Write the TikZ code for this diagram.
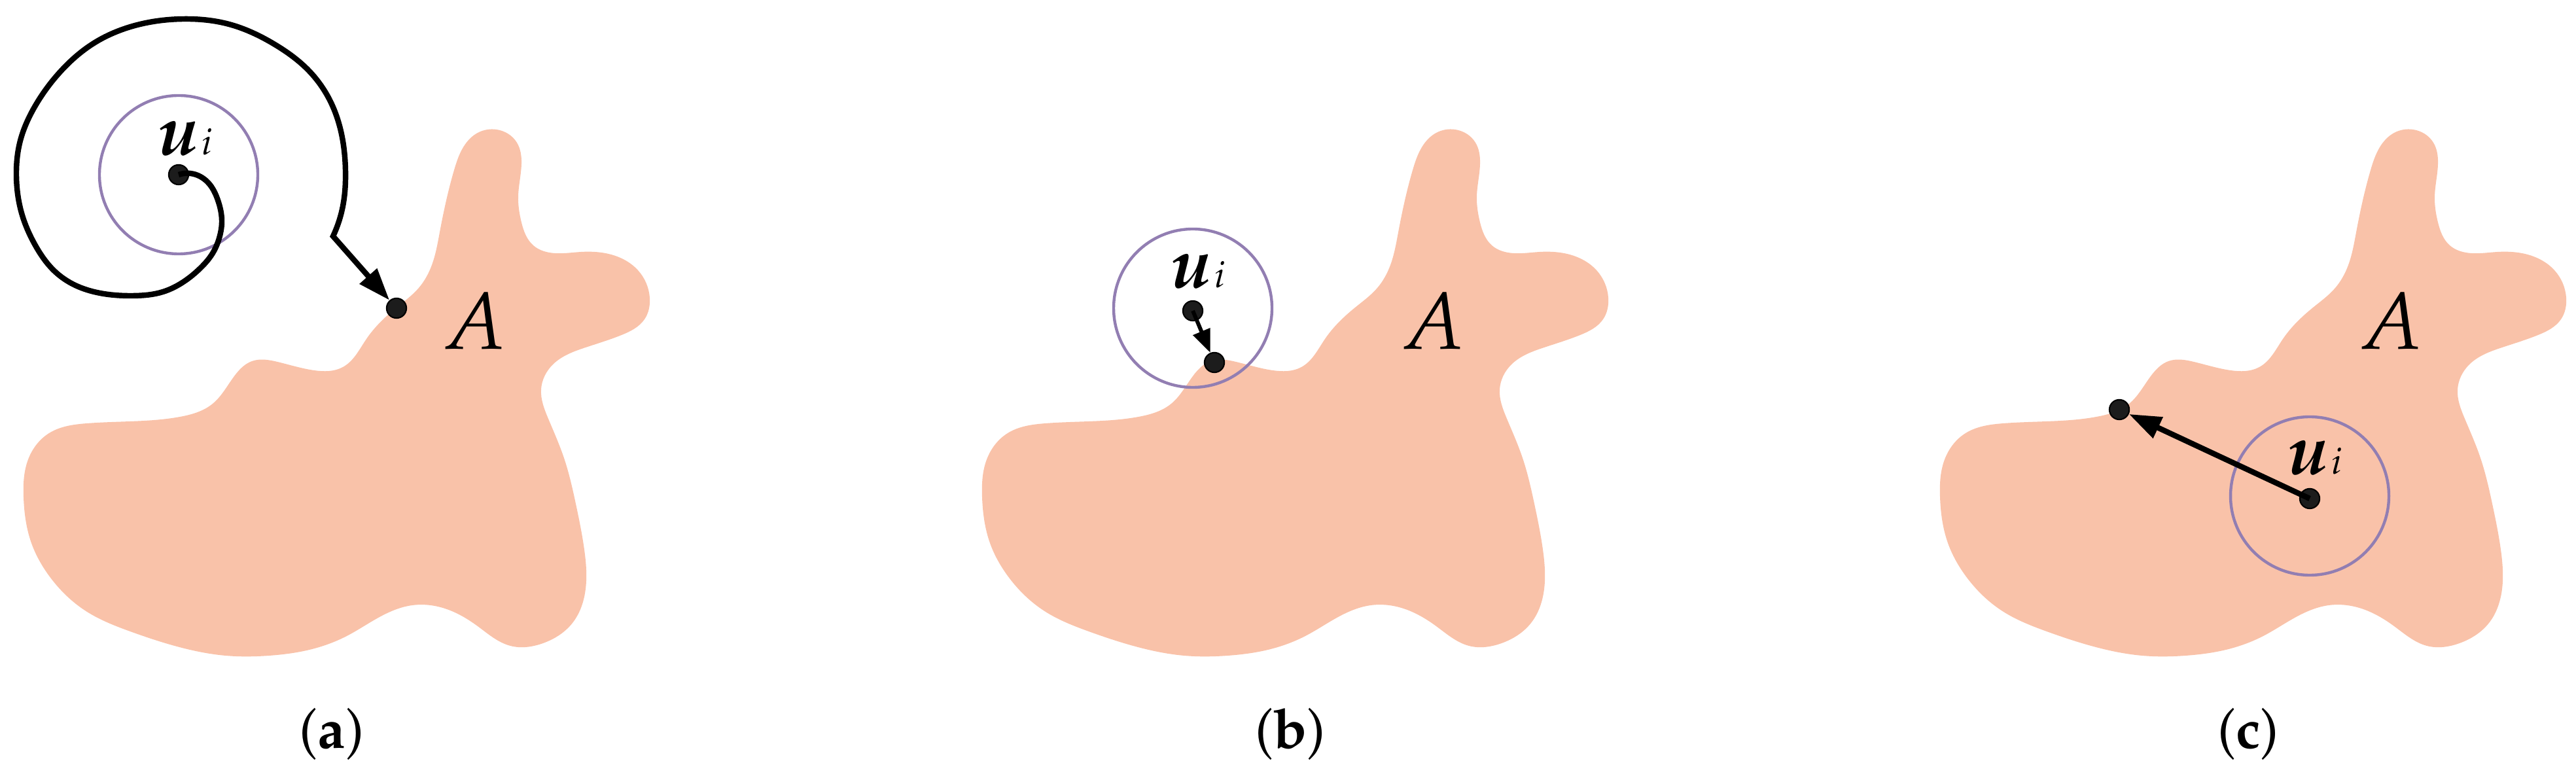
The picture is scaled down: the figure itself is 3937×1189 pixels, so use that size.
\documentclass[tikz,border=0pt]{standalone}
\usepackage[T1]{fontenc}
\usepackage{mathpazo}
\usetikzlibrary{arrows.meta,hobby}
\definecolor{blobc}{RGB}{249,194,169}
\definecolor{ringc}{RGB}{146,126,178}
\definecolor{dotc}{RGB}{28,28,28}
\newcommand{\uilabel}{{\fontsize{31}{36}\selectfont\bfseries\itshape u}\kern1.5pt{\fontsize{16}{18}\selectfont\itshape i}}
\tikzset{
  dotnode/.style={circle, fill=dotc, draw=black, line width=0.6pt, minimum size=8.6pt, inner sep=0pt},
  ring/.style={draw=ringc, line width=1.25pt},
  bigarrow/.style={line width=2.4pt, -{Triangle[length=14pt,width=9.6pt]}, line join=miter},
  smallarrow/.style={line width=1.7pt, -{Triangle[length=10pt,width=7.7pt]}},
  lbl/.style={inner sep=0pt},
  alabel/.style={font=\fontsize{35}{40}\selectfont\itshape, inner sep=0pt},
  caplbl/.style={font=\fontsize{24}{28}\selectfont, inner sep=0pt},
  blobfill/.style={fill=blobc}
}
\begin{document}
\begin{tikzpicture}[x=0.01cm, y=-0.01cm]
\useasboundingbox (0,0) rectangle (3937,1189);
% blobs
\foreach \dx in {0,1465,2929}{
\fill[blobfill, shift={(\dx,0)}] plot[closed hobby] coordinates {
(606,470) (560,518) (524,561) (480,566) (424,553) (385,552) (361,571) (325,617) (275,637) (199,644) (133,647) (75,662) (42,705) (36,760) (48,830) (75,880) (133,935) (199,965) (278,990) (345,1002) (411,1002) (477,992) (530,972) (580,943) (630,925) (680,930) (730,957) (780,987) (830,983) (875,952) (895,900) (893,840) (880,770) (862,700) (838,640) (827,595) (845,557) (895,531) (950,512) (985,488) (993,455) (975,413) (934,389) (888,385) (848,387) (815,375) (797,340) (792,300) (797,250) (790,218) (759,198) (730,203) (708,225) (694,260) (683,302) (672,355) (660,405) (640,440)};
}
% rings
\draw[ring] (273,267) circle[radius=121];
\draw[ring] (1823,471) circle[radius=121];
\draw[ring] (3530,758) circle[radius=121];
% dots
\node[dotnode] (ua) at (273,267) {};
\node[dotnode] (ta) at (606,471) {};
\node[dotnode] (ub) at (1823,475) {};
\node[dotnode] (tb) at (1856,554) {};
\node[dotnode] (uc) at (3530,762) {};
\node[dotnode] (tc) at (3239,626) {};
% connectors
\coordinate (corner) at (509,361);
\draw[bigarrow] plot[hobby] coordinates {(273,267) (291,265) (318,279) (333,306) (339,337) (335,364) (325,387) (306,410) (283,429) (249,446) (203,452) (153,448) (115,436) (84,415) (54,375) (34,329) (25,268) (31,215) (52,165) (90,112) (145,65) (210,38) (280,29) (350,37) (420,68) (472,108) (505,155) (522,205) (528,260) (524,315) (509,361)} -- (ta);
\draw[smallarrow] (ub.center) -- (tb);
\draw[bigarrow] (uc.center) -- (tc);
% labels
\node[lbl, anchor=base] (la) at (283,237) {\uilabel};
\node[lbl, anchor=base] (lb) at (1831,440) {\uilabel};
\node[lbl, anchor=base] (lc) at (3538,725) {\uilabel};
\node[alabel] (Aa) at (728,491) {A};
\node[alabel] (Ab) at (2193,491) {A};
\node[alabel] (Ac) at (3657,491) {A};
\node[caplbl] (ca) at (507,1122) {(\textbf{a})};
\node[caplbl] (cb) at (1972,1122) {(\textbf{b})};
\node[caplbl] (cc) at (3436,1122) {(\textbf{c})};
\end{tikzpicture}
\end{document}
